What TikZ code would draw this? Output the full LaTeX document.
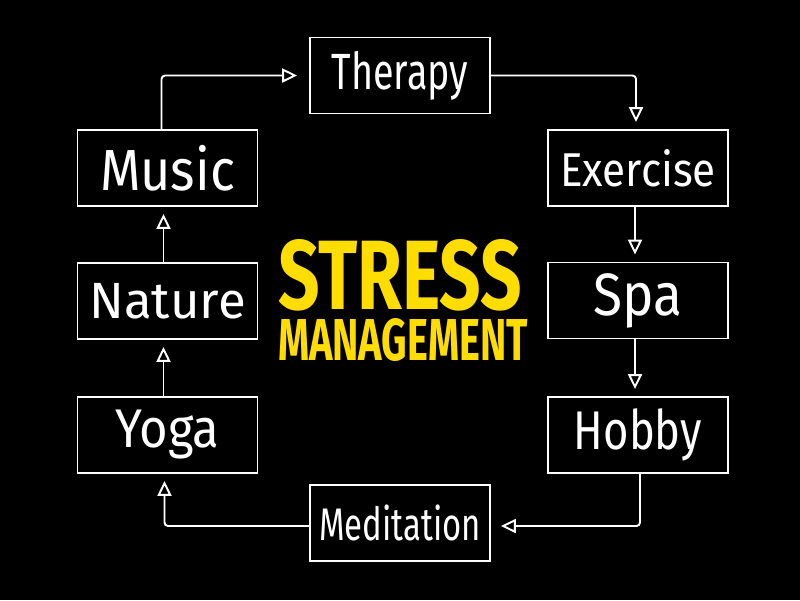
\documentclass[tikz,border=0pt]{standalone}
\usepackage{graphicx}
\usepackage{fontspec}
\setmainfont{Fira Sans}
\usetikzlibrary{arrows.meta}
\definecolor{stressyellow}{RGB}{255,221,0}

\newcommand{\fsz}[1]{\fontsize{#1}{#1}\selectfont}
\newcommand{\narrow}[2]{\scalebox{#1}[1]{#2}}

\begin{document}
\begin{tikzpicture}[%
        x=0.02cm, y=-0.02cm,
        topic/.style={draw=white, line width=1.1pt, minimum width=3.6cm,
            minimum height=1.52cm, inner sep=0pt, text=white},
        flow/.style={draw=white, line width=1.1pt, rounded corners=2pt,
            -{Triangle[length=8.5pt, width=8pt, fill=black]}},
        headline/.style={text=stressyellow, inner sep=0pt, font=\bfseries}
    ]
        \fill[black] (0,0) rectangle (800,600);

        % boxes round the ring
        \node [topic, font=\fsz{29}] (therapy)    at (400,75.5) {\narrow{0.74}{Therapy}};
        \node [topic, font=\fsz{27}] (exercise)   at (638,168)  {\narrow{0.89}{Exercise}};
        \node [topic, font=\fsz{34}] (spa)        at (638,300.5){\narrow{0.89}{Spa}};
        \node [topic, font=\fsz{31}] (hobby)      at (638,435)  {\narrow{0.8}{Hobby}};
        \node [topic, font=\fsz{26}] (meditation) at (400,523)  {\narrow{0.72}{Meditation}};
        \node [topic, font=\fsz{31}] (yoga)       at (167.5,435){\narrow{0.9}{Yoga}};
        \node [topic, font=\fsz{29}] (nature)     at (167.5,301){Nature};
        \node [topic, font=\fsz{33}] (music)      at (167.5,168){\narrow{0.9}{Music}};

        % title in the middle
        \node [headline] (stress)     at (400,275)
            {\resizebox{4.88cm}{1.40cm}{STRESS}};
        \node [headline] (management) at (403,340)
            {\resizebox{5.0cm}{0.84cm}{MANAGEMENT}};

        % arrows
        \draw [flow, shorten >=0.24cm] ([xshift=-0.12cm]music.north) |- (therapy.west);
        \draw [flow, shorten >=0.14cm] (therapy.east) -| ([xshift=-0.04cm]exercise.north);
        \draw [flow, shorten >=0.14cm] ([xshift=-0.06cm]exercise.south) -- ([xshift=-0.06cm]spa.north);
        \draw [flow, shorten >=0.14cm] ([xshift=-0.06cm]spa.south) -- ([xshift=-0.06cm]hobby.north);
        \draw [flow, shorten >=0.2cm] ([xshift=0.04cm]hobby.south) |- ([yshift=-0.06cm]meditation.east);
        \draw [flow, shorten >=0.14cm] ([yshift=-0.06cm]meditation.west) -| ([xshift=-0.06cm]yoga.south);
        \draw [flow, shorten >=0.14cm] ([xshift=-0.08cm]yoga.north) -- ([xshift=-0.08cm]nature.south);
        \draw [flow, shorten >=0.14cm] ([xshift=-0.08cm]nature.north) -- ([xshift=-0.08cm]music.south);
    \end{tikzpicture}
\end{document}
